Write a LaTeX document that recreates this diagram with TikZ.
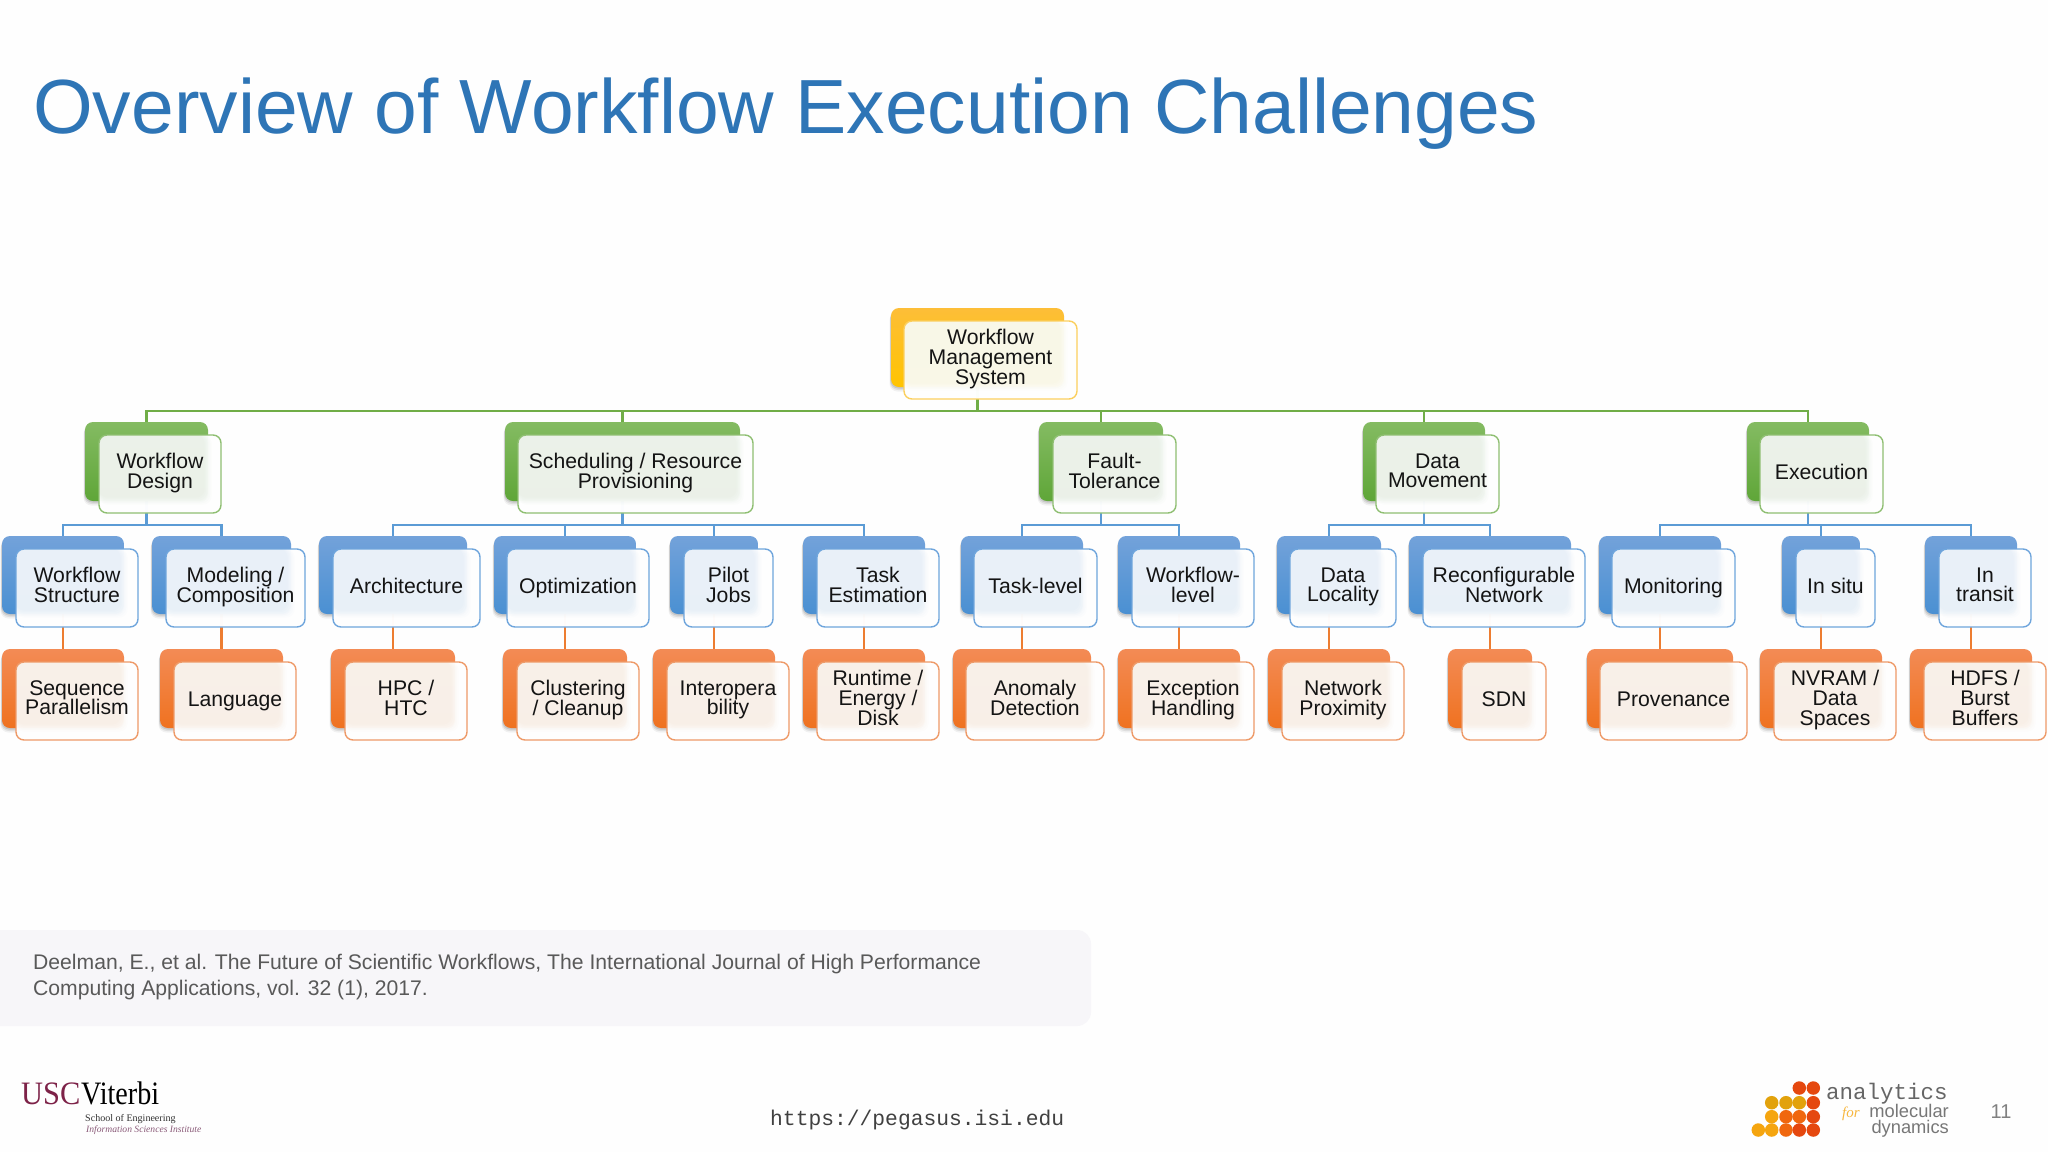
\documentclass[tikz,border=0pt]{standalone}
\usepackage{fontspec}
\usepackage{graphicx}
\setmainfont{Liberation Sans}
\newfontfamily\serifface{Liberation Serif}
\newfontfamily\monoface{Liberation Mono}
\usetikzlibrary{shadows,backgrounds}
\pgfdeclarelayer{backs}
\pgfdeclarelayer{mid}
\pgfsetlayers{background,backs,mid,main}
\definecolor{gline}{HTML}{70AD47}
\definecolor{bline}{HTML}{5B9BD5}
\definecolor{oline}{HTML}{ED7D31}
\definecolor{yline}{HTML}{E8B830}
\definecolor{titleblue}{HTML}{2E75B6}
\definecolor{panelgrey}{HTML}{F7F6F9}
\definecolor{cite}{HTML}{595959}
\definecolor{uscred}{HTML}{7D2248}
\definecolor{isipurple}{HTML}{8A5A78}
\definecolor{amdgrey}{HTML}{666666}
\definecolor{amdgrey2}{HTML}{777777}
\definecolor{d1}{HTML}{F5A50F}
\definecolor{d2}{HTML}{E2A20C}
\definecolor{d3}{HTML}{F0670F}
\definecolor{d4}{HTML}{E5480F}
\definecolor{c1}{HTML}{FDBE38}\definecolor{c2}{HTML}{FFC400}
\definecolor{c3}{HTML}{84BB62}\definecolor{c4}{HTML}{5FA638}
\definecolor{c5}{HTML}{73A2DA}\definecolor{c6}{HTML}{4A90D2}
\definecolor{c7}{HTML}{F38B55}\definecolor{c8}{HTML}{EF7220}
\definecolor{c9}{HTML}{FBCF5E}\definecolor{c10}{HTML}{8FBF72}
\definecolor{c11}{HTML}{6FA5DC}\definecolor{c12}{HTML}{EE9A68}
\tikzset{
  x=1pt,y=-1pt,
  backbase/.style={rectangle,rounded corners=8pt,inner sep=0pt,outer sep=0pt,draw=none,
    drop shadow={shadow xshift=-.6pt,shadow yshift=-1.5pt,opacity=.10,fill=black},
    drop shadow={shadow xshift=-1pt,shadow yshift=-3pt,opacity=.08,fill=black},
    drop shadow={shadow xshift=-1.5pt,shadow yshift=-4.5pt,opacity=.05,fill=black}},
  backY/.style={backbase,top color=c1,bottom color=c2},
  backG/.style={backbase,top color=c3,bottom color=c4},
  backB/.style={backbase,top color=c5,bottom color=c6},
  backO/.style={backbase,top color=c7,bottom color=c8},
  frontbase/.style={rectangle,rounded corners=8pt,inner sep=0pt,outer sep=0pt,line width=1.4pt,
    align=center,text=black!92,
    font=\fontsize{21.2}{19.6}\selectfont,
    execute at begin node={\lineskiplimit=-30pt\rule{0pt}{17.5pt}},
    execute at end node={\rule[-6.5pt]{0pt}{6.5pt}}},
  frontY/.style={frontbase,draw=c9},
  frontG/.style={frontbase,draw=c10},
  frontB/.style={frontbase,draw=c11},
  frontO/.style={frontbase,draw=c12},
  veil/.style={fill=white,fill opacity=.975,rounded corners=8pt},
  tintY/.style={fill=yline,fill opacity=.012,rounded corners=8pt},
  tintG/.style={fill=gline,fill opacity=.014,rounded corners=8pt},
  tintB/.style={fill=bline,fill opacity=.015,rounded corners=8pt},
  tintO/.style={fill=oline,fill opacity=.013,rounded corners=8pt},
  conn/.style={line width=2.4pt},
  connG/.style={conn,draw=gline},
  connB/.style={conn,draw=bline},
  connO/.style={conn,draw=oline},
  dot/.style={circle,inner sep=0pt,outer sep=0pt,minimum size=13.5pt,fill=#1},
  footer/.style={inner sep=0pt,anchor=base west},
  footere/.style={inner sep=0pt,anchor=base east}
}
\newcommand\setrow[4]{\def\rBT{#1}\def\rBB{#2}\def\rFT{#3}\def\rFB{#4}}
% name, kind, back left, back right, front left, front right, text
\newcommand\tb[7]{%
  \pgfmathsetmacro\bwid{#4-#3}\pgfmathsetmacro\bhei{\rBB-\rBT}%
  \pgfmathsetmacro\bcx{(#3+#4)/2}\pgfmathsetmacro\bcy{(\rBT+\rBB)/2}%
  \pgfmathsetmacro\fwid{#6-#5}\pgfmathsetmacro\fhei{\rFB-\rFT}%
  \pgfmathsetmacro\fcx{(#5+#6)/2}\pgfmathsetmacro\fcy{(\rFT+\rFB)/2}%
  \begin{pgfonlayer}{backs}
  \node[back#2,minimum width=\bwid pt,minimum height=\bhei pt] (#1-b) at (\bcx,\bcy) {};
  \end{pgfonlayer}
  \node[front#2,minimum width=\fwid pt,minimum height=\fhei pt] (#1) at (\fcx,\fcy) {#7};
  \begin{pgfonlayer}{mid}
  \fill[veil] (#1.south west) rectangle (#1.north east);
  \foreach \d in {3.5,2.1,.7,-.7,-2.1,-3.5}
    \fill[tint#2] (#5,\rFT) rectangle (#4+\d,\rBB+\d);
  \end{pgfonlayer}
}
\begin{document}
\begin{tikzpicture}
\useasboundingbox (0,0) rectangle (2048,1152);
\begin{pgfonlayer}{background}
\fill[white!99.5!black] (0,0) rectangle (2048,1152);
\fill[panelgrey] (0,930) {[rounded corners=14pt] -- (1091,930) -- (1091,1026)} -- (0,1026) -- cycle;
\end{pgfonlayer}

\node[footer,text=titleblue,font=\fontsize{76.8}{80}\selectfont] (title) at (33,133) {Overview of Workflow Execution Challenges};

\setrow{308}{387}{321}{399}
\tb{root}{Y}{891}{1064}{904}{1077}{Workflow\\Management\\System}

\setrow{422}{501}{435}{513}
\tb{wd}{G}{85}{208}{99}{221}{Workflow\\Design}
\tb{sr}{G}{505}{740}{518}{753}{Scheduling / Resource\\Provisioning}
\tb{ft}{G}{1039}{1163}{1053}{1176}{Fault-\\Tolerance}
\tb{dm}{G}{1363}{1485}{1376}{1499}{Data\\Movement}
\tb{ex}{G}{1747}{1869}{1760}{1883}{Execution}

\setrow{536}{614}{549}{627}
\tb{ws}{B}{2}{124}{16}{138}{Workflow\\Structure}
\tb{mc}{B}{152}{291}{166}{305}{Modeling /\\Composition}
\tb{ar}{B}{319}{467}{333}{480}{Architecture}
\tb{op}{B}{494}{636}{507}{649}{Optimization}
\tb{pj}{B}{670}{758}{684}{773}{Pilot\\Jobs}
\tb{te}{B}{803}{925}{817}{939}{Task\\Estimation}
\tb{tl}{B}{961}{1083}{974}{1097}{Task-level}
\tb{wl}{B}{1118}{1240}{1132}{1254}{Workflow-\\level}
\tb{dl}{B}{1277}{1381}{1290}{1396}{Data\\Locality}
\tb{rn}{B}{1409}{1571}{1423}{1585}{Reconfigurable\\Network}
\tb{mo}{B}{1599}{1721}{1612}{1735}{Monitoring}
\tb{is}{B}{1782}{1860}{1796}{1875}{In situ}
\tb{it}{B}{1925}{2017}{1939}{2031}{In\\transit}

\setrow{649}{728}{662}{740}
\tb{sp}{O}{2}{124}{16}{138}{Sequence\\Parallelism}
\tb{la}{O}{160}{283}{174}{296}{Language}
\tb{hp}{O}{331}{455}{345}{467}{HPC /\\HTC}
\tb{cc}{O}{503}{627}{517}{639}{Clustering\\/ Cleanup}
\tb{ib}{O}{653}{775}{667}{789}{Interopera\\bility}
\tb{re}{O}{803}{925}{817}{939}{Runtime /\\Energy /\\Disk}
\tb{ad}{O}{953}{1091}{966}{1104}{Anomaly\\Detection}
\tb{eh}{O}{1118}{1240}{1132}{1254}{Exception\\Handling}
\tb{np}{O}{1268}{1390}{1282}{1404}{Network\\Proximity}
\tb{sd}{O}{1448}{1532}{1462}{1546}{SDN}
\tb{pr}{O}{1587}{1733}{1600}{1747}{Provenance}
\tb{nv}{O}{1760}{1882}{1774}{1896}{NVRAM /\\Data\\Spaces}
\tb{hd}{O}{1910}{2032}{1924}{2046}{HDFS /\\Burst\\Buffers}

\coordinate (gbus) at (0,411);
\coordinate (bbus) at (0,525);
\begin{pgfonlayer}{background}
\foreach \c in {wd,sr,ft,dm,ex}
  \draw[connG] (root-b.south) -- (root-b.south |- gbus) -| (\c-b.north);
\foreach \c in {ws,mc} \draw[connB] (wd-b.south) -- (wd-b.south |- bbus) -| (\c-b.north);
\foreach \c in {ar,op,pj,te} \draw[connB] (sr-b.south) -- (sr-b.south |- bbus) -| (\c-b.north);
\foreach \c in {tl,wl} \draw[connB] (ft-b.south) -- (ft-b.south |- bbus) -| (\c-b.north);
\foreach \c in {dl,rn} \draw[connB] (dm-b.south) -- (dm-b.south |- bbus) -| (\c-b.north);
\foreach \c in {mo,is,it} \draw[connB] (ex-b.south) -- (ex-b.south |- bbus) -| (\c-b.north);
\foreach \p/\c in {ws/sp,mc/la,ar/hp,op/cc,pj/ib,te/re,tl/ad,wl/eh,dl/np,rn/sd,mo/pr,is/nv,it/hd}
  \draw[connO] (\p-b.south) -- (\c-b.north);
\end{pgfonlayer}

\node[footer,text=cite,font=\fontsize{21.15}{26}\selectfont] (c1n) at (33,969) {Deelman, E., et al. The Future of Scientific Workflows, The International Journal of High Performance};
\node[footer,text=cite,font=\fontsize{21.15}{26}\selectfont] (c2n) at (33,995) {Computing Applications, vol. 32 (1), 2017.};

\node[footer,text=black!75,font=\monoface\fontsize{21.3}{24}\selectfont] (url) at (770,1125) {https://pegasus.isi.edu};

% USC logo
\node[footer,text=uscred,font=\serifface\fontsize{32.7}{34}\selectfont] (usc) at (21,1104) {\scalebox{.93}[1]{USC}};
\node[footer,text=black,font=\serifface\fontsize{32.7}{34}\selectfont] (vit) at (81,1104) {\scalebox{.86}[1]{Viterbi}};
\node[footer,text=black!80,font=\serifface\fontsize{10.05}{12}\selectfont] (soe) at (85,1121) {School of Engineering};
\node[footer,text=isipurple,font=\serifface\itshape\fontsize{9.6}{12}\selectfont] (isi) at (86,1132.5) {Information Sciences Institute};

% AMD logo
\foreach \n/\x/\y/\c in {a1/1799.3/1088/d4,a2/1813.3/1088/d4,
  b1/1771.7/1102.7/d2,b2/1786/1102.7/d2,b3/1799.3/1102.7/d2,b4/1813.3/1102.7/d4,
  f1/1771.7/1116.7/d1,f2/1786/1116.7/d3,f3/1799.3/1116.7/d3,f4/1813.3/1116.7/d4,
  e0/1758.3/1130/d1,e1/1771.7/1130/d1,e2/1786/1130/d3,e3/1799.3/1130/d4,e4/1813.3/1130/d4}
  \node[dot=\c] (\n) at (\x,\y) {};
\node[footer,text=amdgrey,font=\monoface\fontsize{22.5}{24}\selectfont] (an) at (1826,1099) {analytics};
\node[footer,text=d1!80,font=\serifface\itshape\fontsize{15}{16}\selectfont] (fo) at (1842,1117) {for};
\node[footere,text=amdgrey2,font=\fontsize{18.3}{20}\selectfont] (mol) at (1949,1117) {molecular};
\node[footere,text=amdgrey2,font=\fontsize{18.3}{20}\selectfont] (dyn) at (1949,1133) {dynamics};
\node[inner sep=0pt,anchor=base,text=black!50,font=\fontsize{20}{22}\selectfont] (pg) at (2001,1118) {11};
\end{tikzpicture}
\end{document}
